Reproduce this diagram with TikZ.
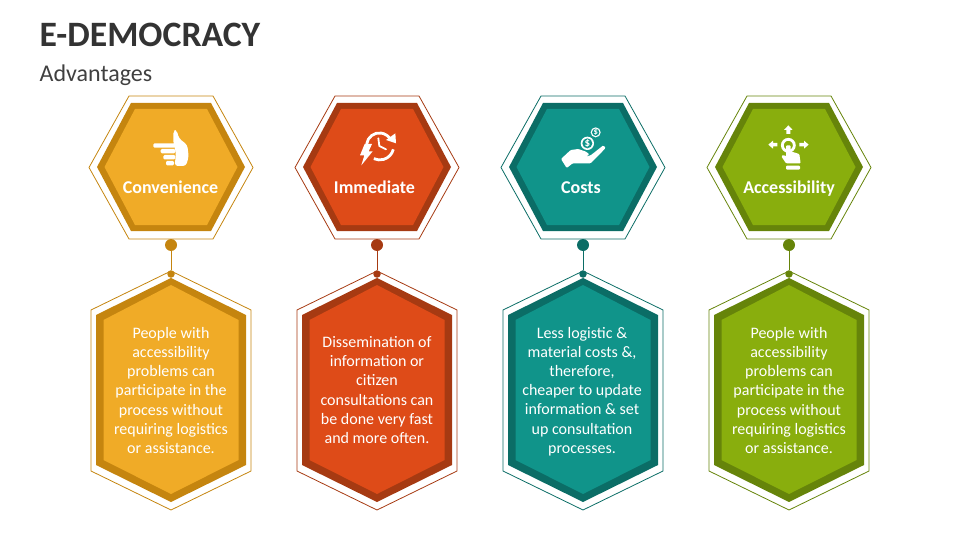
\documentclass[tikz,border=0pt]{standalone}
\usepackage{fontspec}
\setmainfont{Carlito}
\usepackage{tikz}

\definecolor{orangefill}{HTML}{F0AB27}
\definecolor{orangerim}{HTML}{C5850F}
\definecolor{redfill}{HTML}{DE4B18}
\definecolor{redrim}{HTML}{A63A12}
\definecolor{tealfill}{HTML}{10948A}
\definecolor{tealrim}{HTML}{0B6D66}
\definecolor{greenfill}{HTML}{89AE0D}
\definecolor{greenrim}{HTML}{66840A}

\tikzset{
  headtext/.style={text=white, font=\bfseries\fontsize{18}{20}\selectfont, inner sep=0pt, anchor=base},
  bodytext/.style={text=white, font=\fontsize{16}{19.2}\selectfont, align=center, inner sep=0pt},
  bigdot/.style={circle, fill=#1, minimum size=12pt, inner sep=0pt},
  smalldot/.style={circle, fill=#1, minimum size=7.5pt, inner sep=0pt},
  thumbicon/.pic={
    \fill[white, rounded corners=1.2pt] (40,70) rectangle (106,83);
    \fill[white, rounded corners=1.2pt] (62,87) rectangle (106,100);
    \fill[white, rounded corners=1.2pt] (70,105) rectangle (106,118);
    \fill[white, rounded corners=1.2pt] (78,123) rectangle (102,136);
    \fill[white, rounded corners=3pt] (100,68) -- (100,32) -- (110,30) -- (117,55) -- (142,75)
      -- (146,110) -- (138,138) -- (104,138) -- (108,100) -- cycle;
  },
  clockicon/.pic={
    \draw[white, line width=2.8pt] (80,72) arc[start angle=188, end angle=330, radius=38.5];
    \fill[white] (166,40) -- (168,70) -- (138,60) -- cycle;
    \draw[white, line width=2.8pt] (160,88) arc[start angle=14, end angle=115, radius=42];
    \draw[white, line width=1.8pt, line cap=round, line join=round] (115,55) -- (118,78) -- (138,88);
    \fill[white] (74,72) -- (96,72) -- (86,94) -- (98,94) -- (64,136) -- (73,106) -- (60,106) -- cycle;
  },
  moneyicon/.pic={
    \fill[white, rounded corners=1pt] (33,117) -- (62,90) -- (85,87) -- (108,95) -- (118,103) -- (108,110)
      -- (122,106) -- (160,76) -- (167,84) -- (122,130) -- (68,130) -- (50,144) -- cycle;
    \fill[white] (112,70) circle[radius=20];
    \fill[tealfill] (112,70) circle[radius=15];
    \fill[white] (137,37) circle[radius=15];
    \fill[tealfill] (137,37) circle[radius=11];
    \node[text=white, font=\bfseries\fontsize{11}{11}\selectfont, inner sep=0pt] (coinbig) at (112,70) {\$};
    \node[text=white, font=\bfseries\fontsize{8.5}{9}\selectfont, inner sep=0pt] (coinsmall) at (137,37) {\$};
  },
  reachicon/.pic={
    \fill[white] (85,22) -- (98,36) -- (91,36) -- (91,48) -- (79,48) -- (79,36) -- (72,36) -- cycle;
    \fill[white] (25,80) -- (39,68) -- (39,75) -- (52,75) -- (52,85) -- (39,85) -- (39,92) -- cycle;
    \fill[white] (146,80) -- (132,68) -- (132,75) -- (118,75) -- (118,85) -- (132,85) -- (132,92) -- cycle;
    \draw[white, line width=2.8pt] (85,82) circle[radius=18];
    \fill[white, rounded corners=1pt] (78,82) -- (92,82) -- (92,100) -- (118,108) -- (122,136) -- (78,136)
      -- (64,115) -- (70,110) -- (78,116) -- cycle;
    \fill[white, rounded corners=1pt] (78,143) rectangle (120,155);
  },
}

% upper six-sided badge: centre x, fill, rim
\newcommand{\headhex}[3]{
  \draw[#3, line width=.8pt] (#1-42,96) -- (#1+42,96) -- (#1+82,167.5) -- (#1+42,239) -- (#1-42,239) -- (#1-82,167.5) -- cycle;
  \fill[#3] (#1-40,103) -- (#1+40,103) -- (#1+74,167) -- (#1+40,231) -- (#1-40,231) -- (#1-74,167) -- cycle;
  \fill[#2] (#1-36,109) -- (#1+36,109) -- (#1+66.5,167) -- (#1+36,225) -- (#1-36,225) -- (#1-66.5,167) -- cycle;
}
% lower six-sided card: centre x, fill, rim
\newcommand{\bodyhex}[3]{
  \draw[#3, line width=.8pt] (#1,271) -- (#1+80,310) -- (#1+80,471) -- (#1,510) -- (#1-80,471) -- (#1-80,310) -- cycle;
  \fill[#3] (#1,278) -- (#1+75,315) -- (#1+75,465) -- (#1,502) -- (#1-75,465) -- (#1-75,315) -- cycle;
  \fill[#2] (#1,285) -- (#1+67.5,320) -- (#1+67.5,460) -- (#1,494) -- (#1-67.5,460) -- (#1-67.5,320) -- cycle;
}

\begin{document}
\begin{tikzpicture}[x=1pt, y=-1pt]
  \useasboundingbox (0,0) rectangle (960,540);

  \node[anchor=west, inner sep=0pt, text=black!80, font=\bfseries\fontsize{35.7}{40}\selectfont] (title) at (39.5,35) {E-DEMOCRACY};
  \node[anchor=west, inner sep=0pt, text=black!75, font=\fontsize{24}{26}\selectfont] (subtitle) at (39.5,75) {Advantages};

  % convenience
  \headhex{171}{orangefill}{orangerim}
  \bodyhex{171}{orangefill}{orangerim}
  \node[bigdot=orangerim] (dotA) at (171,245) {};
  \node[smalldot=orangerim] (tipA) at (171,274) {};
  \path[draw=orangerim, line width=.8pt] (dotA) edge (tipA);
  \pic[scale=1/3] at (140,120) {thumbicon};
  \node[headtext] (headA) at (170.5,193.5) {Convenience};
  \node[bodytext] (bodyA) at (171,390.5) {People with\\accessibility\\problems can\\participate in the\\process without\\requiring logistics\\or assistance.};

  % immediate
  \headhex{377}{redfill}{redrim}
  \bodyhex{377}{redfill}{redrim}
  \node[bigdot=redrim] (dotB) at (377,245) {};
  \node[smalldot=redrim] (tipB) at (377,274) {};
  \path[draw=redrim, line width=.8pt] (dotB) edge (tipB);
  \pic[scale=1/3] at (340,120) {clockicon};
  \node[headtext] (headB) at (374.5,193.5) {Immediate};
  \node[bodytext] (bodyB) at (377,390) {Dissemination of\\information or\\citizen\\consultations can\\be done very fast\\and more often.};

  % costs
  \headhex{583}{tealfill}{tealrim}
  \bodyhex{583}{tealfill}{tealrim}
  \node[bigdot=tealrim] (dotC) at (583,245) {};
  \node[smalldot=tealrim] (tipC) at (583,274) {};
  \path[draw=tealrim, line width=.8pt] (dotC) edge (tipC);
  \pic[scale=1/3] at (550,120) {moneyicon};
  \node[headtext] (headC) at (581,193.5) {Costs};
  \node[bodytext] (bodyC) at (582,391.5) {Less logistic \&\\material costs \&,\\therefore,\\cheaper to update\\information \& set\\up consultation\\processes.};

  % accessibility
  \headhex{789}{greenfill}{greenrim}
  \bodyhex{789}{greenfill}{greenrim}
  \node[bigdot=greenrim] (dotD) at (789,245) {};
  \node[smalldot=greenrim] (tipD) at (789,274) {};
  \path[draw=greenrim, line width=.8pt] (dotD) edge (tipD);
  \pic[scale=1/3] at (760,118) {reachicon};
  \node[headtext] (headD) at (789,193.5) {Accessibility};
  \node[bodytext] (bodyD) at (789,390.5) {People with\\accessibility\\problems can\\participate in the\\process without\\requiring logistics\\or assistance.};
\end{tikzpicture}
\end{document}
